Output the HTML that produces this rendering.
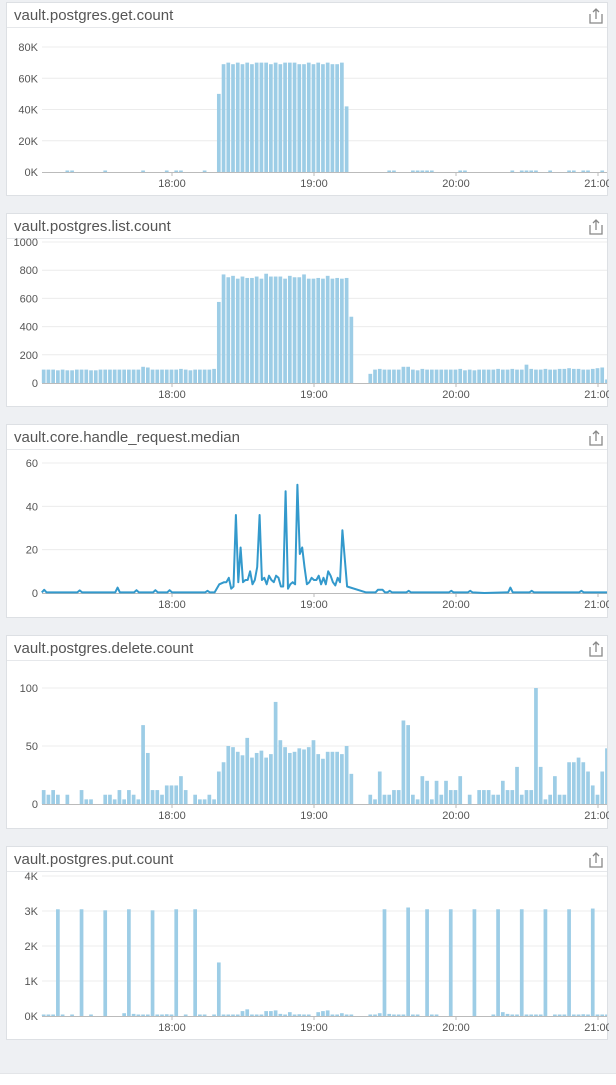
<!DOCTYPE html>
<html><head><meta charset="utf-8"><style>
html,body{margin:0;padding:0;width:616px;height:1084px;overflow:hidden;background:#eef0f3;font-family:"Liberation Sans",sans-serif}
.panel{position:absolute;left:6px;width:602px;height:194px;background:#fff;border:1px solid #dde0e4;box-sizing:border-box}
.title{position:absolute;left:0;top:0;width:100%;height:25px;border-bottom:1px solid #e6e8eb;font-size:15px;color:#555;line-height:25px;padding-left:7px;box-sizing:border-box}
svg.chart{position:absolute;left:0;top:0}
#foot{position:absolute;left:0;top:1073px;width:616px;height:11px;background:#fff;border-top:1px solid #e3e5e8}
</style></head><body>
<div class="panel" style="top:2px"><div class="title">vault.postgres.get.count</div></div>
<div class="panel" style="top:213px"><div class="title">vault.postgres.list.count</div></div>
<div class="panel" style="top:424px"><div class="title">vault.core.handle_request.median</div></div>
<div class="panel" style="top:635px"><div class="title">vault.postgres.delete.count</div></div>
<div class="panel" style="top:846px"><div class="title">vault.postgres.put.count</div></div>
<div id="foot"></div>
<svg class="chart" id="svg" width="616" height="1084"><defs><clipPath id="clip"><rect x="0" y="0" width="609" height="1084"/></clipPath></defs><g id="root" clip-path="url(#clip)"></g></svg>
<script>
// time axis: bins of 2 minutes starting 17:05
const hourLabels = ["18:00","19:00","20:00","21:00"];
const hourMinutes = [60,120,180,240];
const getK = [0,0,0,0,0,0.5,0.5,0,0,0,0,0,0,0.5,0,0,0,0,0,0,0,0.5,0,0,0,0,0.5,0,0.5,0.5,0,0,0,0,0.5,0,0,50,69,70,69,70,69,70,69,70,70,70,69,70,69,70,70,70,69,69,70,69,70,69,70,69,69,70,42,0,0,0,0,0,0,0,0,0.5,0.5,0,0,0,0.5,0.5,0.5,0.5,0.5,0,0,0,0,0,0.5,0.5,0,0,0,0,0,0,0,0,0,0.5,0,0.5,0.5,0.5,0.5,0,0,0.5,0,0,0,0.5,0.5,0,0.5,0.5,0,0,0.5,0];
const listVals = [95,95,95,90,95,90,90,95,95,95,90,90,95,95,95,95,95,95,95,95,95,115,110,95,95,95,95,95,95,100,95,90,95,95,95,95,100,575,770,750,760,740,755,745,745,755,740,775,755,755,755,740,760,750,750,770,740,740,745,740,760,740,745,740,745,470,0,0,0,65,95,100,95,95,95,95,115,115,95,90,100,95,95,95,95,95,95,95,100,90,95,90,95,95,95,95,100,95,95,100,95,95,130,100,95,95,100,95,95,100,100,105,100,100,95,95,100,105,110,25];
const medianMinutes = [5,6,7,9,15,20,21,22,30,36,37,38,44,45,46,52,53,54,58,59,60,68,74,75,76,78,80,82,83,84,85,86,87,88,89,90,91,92,93,94,95,96,97,98,99,100,101,102,103,104,105,106,107,108,109,110,111,112,113,114,115,116,117,118,119,120,121,122,123,124,125,126,127,128,129,130,131,132,134,142,146,147,149,150,151,152,153,159,160,161,177,178,179,185,186,187,192,201,202,203,204,211,212,213,232,233,234,244];
const medianValues = [0.3,1.5,0.3,0.3,0.3,0.3,1.2,0.3,0.3,0.3,2.5,0.3,0.3,1.3,0.3,0.3,1.3,0.3,0.3,1.3,0.3,0.3,0.3,1,0.3,0.3,4,5,5,7,2,3,36,5,21,5,6,6,10,4,6,12,36,6,7,4,8,6,5,8,7,3,3,47,2,4,5,4,50,18,21,12,4,5,7,6,6,8,4,7,4,10,8,5,3.5,7,5,29,3,0.3,0.3,1.5,1.5,0.3,0.3,1,0.3,0.3,1,0.3,0.3,1,0.3,0.3,1,0.3,0,0.3,0.3,2.5,0.3,0.3,1,0.3,0.3,1,0.3,0.3];
const deleteVals = [12,8,12,8,0,8,0,0,12,4,4,0,0,8,8,4,12,4,12,8,4,68,44,12,12,8,16,16,16,24,12,0,8,4,4,8,4,28,36,50,49,45,42,57,40,44,46,40,43,88,55,49,44,45,48,47,49,55,43,39,45,45,45,43,50,26,0,0,0,8,4,28,8,8,12,12,72,68,8,4,24,20,4,20,8,20,12,12,24,0,8,0,12,12,12,8,8,20,12,12,32,8,12,12,100,32,4,8,24,8,8,36,36,40,36,28,16,8,28,48,4];
const putVals = [30,30,30,3050,30,0,30,0,3050,0,30,0,0,3020,0,0,0,80,3050,60,30,30,30,3020,30,30,50,30,3050,0,30,0,3050,30,30,0,30,1530,30,30,30,30,140,190,30,30,30,140,140,160,60,30,110,30,50,30,30,0,110,140,160,30,30,80,30,30,0,0,0,30,30,80,3050,60,30,30,30,3100,30,30,0,3050,30,30,0,0,3050,0,0,0,0,3050,0,0,0,30,3050,110,60,30,30,3050,30,30,30,30,3050,0,30,30,30,3050,30,30,50,30,3070,30,30,30];

const svg = document.getElementById('root');
const NS = 'http://www.w3.org/2000/svg';
const X0 = 42, XR = 607;
function xOfMin(m){ return 172 + (m-60)*142/60; }
function el(tag, attrs){ const e=document.createElementNS(NS,tag); for(const k in attrs) e.setAttribute(k,attrs[k]); svg.appendChild(e); return e; }

function axes(top, zeroY, maxY, maxV, ticks, labels, name){
  for(let i=0;i<ticks.length;i++){
    const y = zeroY - (ticks[i]/maxV)*(zeroY-maxY);
    if(ticks[i]!==0){
      const g=el('line',{x1:X0,x2:XR,y1:y,y2:y,stroke:'#ececec','stroke-width':1});
      
      
    }
    const t=el('text',{x:38,y:y+4,'text-anchor':'end','font-size':11,fill:'#555','font-family':'Liberation Sans, sans-serif'});
    t.textContent=labels[i];
    
    
  }
  const b=el('line',{x1:X0,x2:XR,y1:zeroY+0.5,y2:zeroY+0.5,stroke:'#bbb','stroke-width':1});
  
  
  for(let i=0;i<hourMinutes.length;i++){
    const x=xOfMin(hourMinutes[i]);
    const tk=el('line',{x1:x,x2:x,y1:zeroY,y2:zeroY+4,stroke:'#bbb'});
    
    
    const t=el('text',{x:x,y:zeroY+15,'text-anchor':'middle','font-size':11,fill:'#555','font-family':'Liberation Sans, sans-serif'});
    t.textContent=hourLabels[i];
    
    
  }
}
function bars(vals, zeroY, maxY, maxV, name){
  for(let i=0;i<vals.length;i++){
    if(!vals[i]) continue;
    const x = xOfMin(5+2*i);
    if(x>XR) continue;
    let h = vals[i]/maxV*(zeroY-maxY); if(h<1.5) h=1.5;
    const r=el('rect',{x:x,y:zeroY-h,width:Math.min(3.7,XR-x),height:h,fill:'#9dcde6'});
    
    
  }
}
function share(top){
  const g=el('path',{d:`M${590} ${top+12} v9 h12 v-9 M596 ${top+17} v-10 M593 ${top+10} l3 -3 l3 3`,fill:'none',stroke:'#888','stroke-width':1.3});
  
  
}
[2,213,424,635,846].forEach(share);

axes(2,172,47,80,[0,20,40,60,80],["0K","20K","40K","60K","80K"],'get');
bars(getK,172,47,80,'get');
axes(213,383,242,1000,[0,200,400,600,800,1000],["0","200","400","600","800","1000"],'list');
bars(listVals,383,242,1000,'list');
axes(424,593,463,60,[0,20,40,60],["0","20","40","60"],'median');
let d='';
for(let i=0;i<medianMinutes.length;i++){
  const x=Math.min(xOfMin(medianMinutes[i]),XR); const y=593-medianValues[i]/60*130;
  d+=(i?'L':'M')+x.toFixed(1)+' '+y.toFixed(1);
}
const ln=el('path',{d:d,fill:'none',stroke:'#3399cc','stroke-width':2,'stroke-linejoin':'round'});


axes(635,804,688,100,[0,50,100],["0","50","100"],'delete');
bars(deleteVals,804,688,100,'delete');
axes(846,1016,876,4000,[0,1000,2000,3000,4000],["0K","1K","2K","3K","4K"],'put');
bars(putVals,1016,876,4000,'put');
</script>
</body></html>
